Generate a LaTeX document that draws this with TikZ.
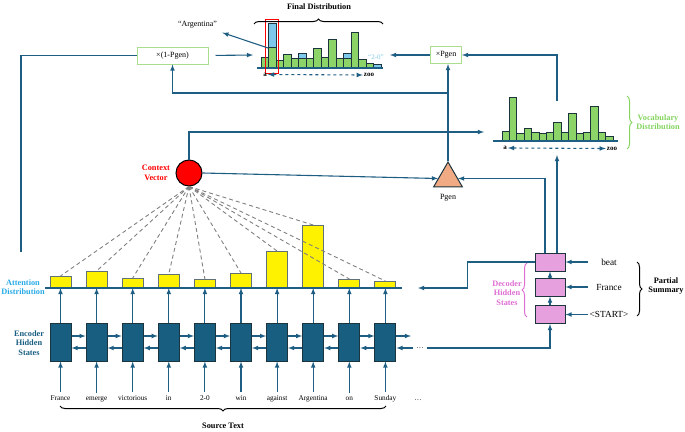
\documentclass[tikz,border=0pt]{standalone}
\usepackage{fontspec}
\setmainfont{Liberation Serif}
\usetikzlibrary{positioning,shapes.geometric,decorations.pathreplacing}
\definecolor{linec}{RGB}{30,94,130}
\definecolor{encc}{RGB}{24,94,128}
\definecolor{barc}{RGB}{28,52,62}
\definecolor{greenc}{RGB}{140,212,104}
\definecolor{bluec}{RGB}{126,200,235}
\definecolor{pinkc}{RGB}{230,160,222}
\definecolor{pinkt}{RGB}{222,110,210}
\definecolor{salmon}{RGB}{240,170,132}
\definecolor{attc}{RGB}{40,170,230}
\definecolor{vocc}{RGB}{132,212,96}
\definecolor{boxc}{RGB}{170,222,140}
\tikzset{
  arr/.style={line width=1.1pt,draw=linec,-latex},
  conn/.style={line width=1.1pt,draw=linec},
  dblarr/.style={line width=1.1pt,draw=linec,dashed,latex-latex},
  enc/.style={draw=barc,fill=encc,line width=1pt,minimum width=21,minimum height=38,inner sep=0},
  dec/.style={draw=barc,fill=pinkc,line width=1pt,minimum width=30,minimum height=18,inner sep=0},
  att/.style={draw=barc!70,fill=yellow,line width=1pt,minimum width=21,inner sep=0,anchor=south},
  gbar/.style={draw=barc,fill=greenc,line width=0.9pt,minimum width=7.4,inner sep=0,anchor=south},
  bbar/.style={draw=barc,fill=bluec,line width=0.9pt,minimum width=7.4,inner sep=0,anchor=south},
  mult/.style={draw=boxc,line width=1pt,inner sep=0,minimum height=17,font=\fontsize{8}{9}\selectfont},
  lbl/.style={font=\fontsize{8.3}{9.5}\selectfont\bfseries,align=center},
  word/.style={font=\fontsize{7.3}{8}\selectfont,inner sep=1pt,anchor=base},
  axlbl/.style={font=\fontsize{7}{8}\selectfont\bfseries,inner sep=1pt},
  brc/.style={decorate,decoration={brace,amplitude=5pt},line width=1pt},
  mbrc/.style={decorate,decoration={brace,mirror,amplitude=5pt},line width=1pt},
}
\begin{document}
\begin{tikzpicture}[x=1pt,y=-1pt,font=\fontsize{7.3}{8}\selectfont]
    \useasboundingbox (0,0) rectangle (685,431);
    \begin{scope}
        \foreach \w/\h [count=\i from 0] in {France/11,emerge/16,victorious/9,in/13,2-0/8,win/14,against/36,Argentina/62,on/8,Sunday/6} {
            \node[enc] (e\i) at (60.5+36.1*\i,342) {};
            \node[word] (w\i) at (60.5+36.1*\i,400) {\w};
            \node[att,minimum height=\h] (a\i) at (60.5+36.1*\i,288) {};
            \draw[arr,shorten <=2pt] (w\i.north) -- (e\i.south);
            \draw[arr] (e\i.north) -- (a\i.south);
        }
        \foreach \i [evaluate=\i as \j using int(\i+1)] in {0,...,8} {
            \draw[arr] ([yshift=6pt]e\i.east) -- ([yshift=6pt]e\j.west);
            \draw[arr] ([yshift=-6pt]e\j.west) -- ([yshift=-6pt]e\i.east);
        }
        \node[word] (wdots) at (418,400) {\dots};
        \node (dots) at (420,348) {\dots};
        \coordinate (fwd) at (411,336);
        \draw[arr] ([yshift=6pt]e9.east) -- (fwd);
        \draw[arr] (dots.west) -- ([yshift=-6pt]e9.east);
        \draw[conn] (45,288) -- (402,288);
    \end{scope}

    \node[lbl,text=encc] (encl) at (29,343) {Encoder\\Hidden\\States};
    \node[lbl,text=attc] (attl) at (23,287) {Attention\\Distribution};
    \draw[mbrc] (60,406) -- (386,406);
    \node[lbl] (srcl) at (223,426) {Source Text};

    \node[circle,draw=black,fill=red,line width=1pt,minimum size=26,inner sep=0] (ctx) at (189,173) {};
    \node[lbl,text=red,left=2pt of ctx] (ctxl) {Context\\Vector};
    \foreach \i in {0,...,9} {\draw[gray,dash pattern=on 4pt off 3pt,line width=0.9pt] (ctx.south) -- (a\i.north);}

    \node[regular polygon,regular polygon sides=3,draw=barc,fill=salmon,line width=1pt,minimum size=33,inner sep=0] (pg) at (448,178.5) {};
    \node[below=3pt of pg,font=\fontsize{8}{9}\selectfont] (pgl) {Pgen};

    \node[mult,minimum width=71] (m1p) at (172.5,55.5) {×(1-Pgen)};
    \node[mult,minimum width=31] (mp) at (446,55) {×Pgen};

    \begin{scope}
        \foreach \w/\y [count=\i from 0] in {<START>/314.5,France/287,beat/262} {
            \node[dec] (d\i) at (550,\y) {};
            \node[font=\fontsize{9.3}{10}\selectfont,minimum width=42,inner sep=0] (in\i) at (609,\y) {\w};
            \draw[arr] (in\i.west) -- (d\i.east);
        }
        \draw[arr] (d0.north) -- (d1.south);
        \draw[arr] (d1.north) -- (d2.south);
    \end{scope}
    \draw[brc] (637,262) -- (637,316);
    \node[lbl] (psl) at (666,286) {Partial\\Summary};
    \draw[mbrc,draw=pinkt] (527,263) -- (527,317);
    \node[lbl,text=pinkt] (decl) at (507,293) {Decoder\\Hidden\\States};

    \foreach \h [count=\i] in {9,43,7,12,8,7,8,18,8,27,7,8,34,8,4}
        \node[gbar,minimum height=\h] (v\i) at (498.3+7.4*\i,141) {};
    \draw[conn] (493,141) -- (618,141);
    \node[axlbl] (va) at (505,148) {a};
    \node[axlbl] (vz) at (612,148.5) {zoo};
    \draw[dblarr] (va.east) -- (vz.west);
    \draw[brc,draw=vocc] (627,96) -- (627,149);
    \node[lbl,text=vocc] (vocl) at (658,122) {Vocabulary\\Distribution};

    \foreach \g/\b [count=\i] in {10/0,20/24,7/0,13/0,9/0,9/5,9/0,19/0,10/0,28/0,9/0,9/5,35/0,8/0,4/0,0/3} {
        \ifnum\g>0 \node[gbar,minimum height=\g] (f\i) at (257.3+7.5*\i,68) {};\fi
        \ifnum\b>0 \node[bbar,minimum height=\b] (fb\i) at (257.3+7.5*\i,68-\g) {};\fi
    }
    \draw[conn] (257,68) -- (383,68);
    \node[draw=red,line width=1pt,minimum width=13,minimum height=54,inner sep=0] (sel) at (272.3,46) {};
    \node[axlbl] (fa) at (265,74.5) {a};
    \node[axlbl] (fz) at (369,75) {zoo};
    \draw[dblarr] (fa.east) -- (fz.west);
    \draw[brc] (254,24) -- (383,24);
    \node[lbl] (fdl) at (319,7) {Final Distribution};
    \node[text=bluec,font=\fontsize{7}{8}\selectfont] (twol) at (376,57) {``2-0''};
    \node[font=\fontsize{8}{9}\selectfont] (argl) at (197.5,25) {``Argentina''};
    \draw[arr,shorten >=2pt] (fb2.south west) -- (argl.south east);

    \coordinate (vin) at (484,132);
    \coordinate (br) at (448,93);
    \coordinate (vtop) at (557,101);
    \coordinate (vbot) at (557,155);
    \coordinate (fdr) at (390,55);
    \coordinate (fdin) at (253,55);
    \coordinate (attup) at (21,252);
    \coordinate (datt) at (418,288);
    \begin{scope}
        \draw[arr] (ctx.east) -- (pg.west);
        \draw[arr] (ctx.north) |- (vin);
        \draw[arr] (pg.north) -- (pg.north |- mp.south);
        \draw[arr] (br) -| (m1p.south);
        \draw[arr] (vtop) |- (mp.east);
        \draw[arr] (mp.west) -- (fdr);
        \draw[arr,shorten <=7pt] (m1p.east) -- (fdin);
        \draw[conn] (attup) |- (m1p.west);
        \draw[arr] ([xshift=-5pt]d2.north) |- (pg.east);
        \draw[arr] ([xshift=7pt]d2.north) -- (vbot);
        \draw[arr] (d2.west) -- ++(-67,0) |- (datt);
        \draw[arr] (dots.east) -| (d0.south);
    \end{scope}
\end{tikzpicture}
\end{document}
